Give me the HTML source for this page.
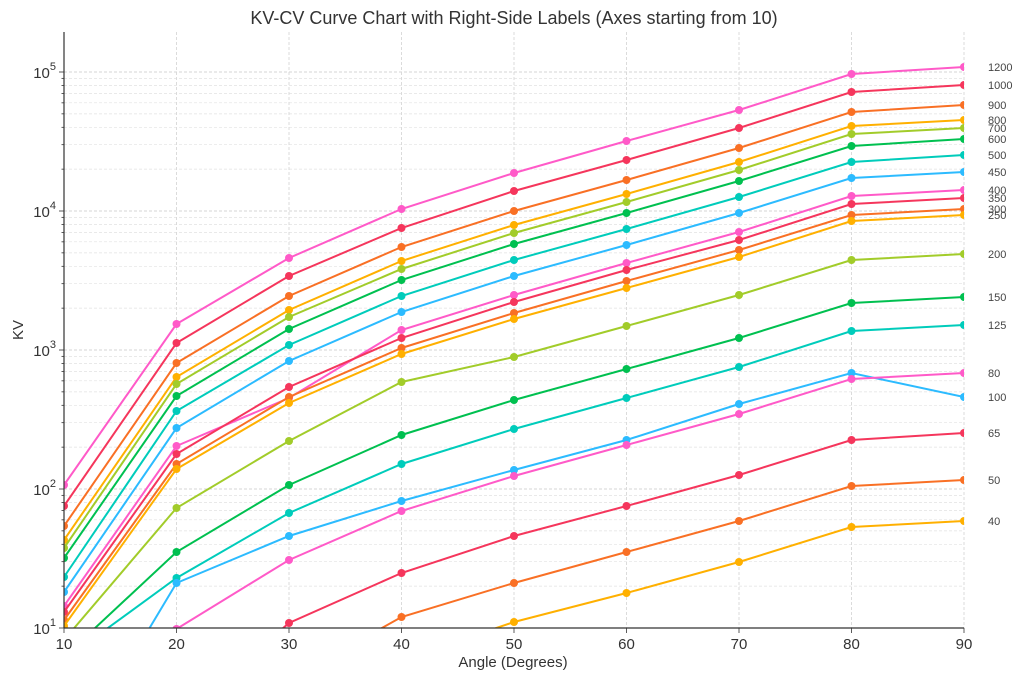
<!DOCTYPE html>
<html><head><meta charset="utf-8"><style>
html,body{margin:0;padding:0;background:#fff;width:1024px;height:680px;overflow:hidden;}
svg{display:block;font-family:"Liberation Sans","DejaVu Sans",sans-serif;}
</style></head><body>
<svg id="s" width="1024" height="680" xmlns="http://www.w3.org/2000/svg">
<rect width="1024" height="680" fill="#fff"/>
<defs><clipPath id="cp"><rect x="64" y="32" width="900" height="596"/></clipPath></defs>
<g id="grid"></g>
<g id="series" clip-path="url(#cp)"></g>
<g id="axes"></g>
<text x="514" y="24" text-anchor="middle" font-size="18" fill="#333">KV-CV Curve Chart with Right-Side Labels (Axes starting from 10)</text>
<text x="513" y="667" text-anchor="middle" font-size="15" fill="#333">Angle (Degrees)</text>
<text transform="translate(23,330) rotate(-90)" text-anchor="middle" font-size="15" fill="#333">KV</text>
</svg>
<script>
const NS="http://www.w3.org/2000/svg";
function el(p,t,a,txt){const e=document.createElementNS(NS,t);for(const k in a)e.setAttribute(k,a[k]);if(txt!==undefined)e.textContent=txt;p.appendChild(e);return e;}
const X0=64,X1=964,Y0=628,YT=32,DEC=139;
const xp=v=>X0+(v-10)*(X1-X0)/80;
const yp=v=>Y0-(Math.log10(v)-1)*DEC;
const g=document.getElementById('grid'),ax=document.getElementById('axes'),sg=document.getElementById('series');
for(let k=1;k<=5;k++){for(let m=1;m<10;m++){const v=m*Math.pow(10,k);const y=yp(v);if(y<YT||y>Y0)continue;
el(g,'line',{x1:X0,x2:X1,y1:y,y2:y,stroke:m==1?'#d4d4d4':'#e2e2e2','stroke-width':m==1?0.9:0.7,'stroke-dasharray':'3,2'});
el(ax,'line',{x1:X0-(m==1?5:2.5),x2:X0,y1:y,y2:y,stroke:'#333','stroke-width':0.8});}}
for(let v=10;v<=90;v+=10){const x=xp(v);el(g,'line',{x1:x,x2:x,y1:YT,y2:Y0,stroke:'#d8d8d8','stroke-width':0.9,'stroke-dasharray':'3,2'});
el(ax,'line',{x1:x,x2:x,y1:Y0,y2:Y0+5,stroke:'#333','stroke-width':0.8});
el(ax,'text',{x:x,y:Y0+21,'text-anchor':'middle','font-size':15,fill:'#333'},String(v));}
for(let k=1;k<=5;k++){const y=yp(Math.pow(10,k));const t=el(ax,'text',{x:X0-8,y:y+6,'text-anchor':'end','font-size':15,fill:'#333'});
el(t,'tspan',{},'10');el(t,'tspan',{dy:-8,'font-size':11},String(k));}
el(ax,'line',{x1:X0,x2:X0,y1:YT,y2:Y0,stroke:'#333','stroke-width':1.2});
el(ax,'line',{x1:X0,x2:X1,y1:Y0,y2:Y0,stroke:'#333','stroke-width':1.2});
const P='#ff5ac8',R='#f5365c',O='#f97025',A='#ffb000',YG='#a2cc2a',G='#00c050',T='#00ccbb',B='#2cbbff';
const S=[
['1200',P,[485,324,258,209,173,141,110,74,67]],
['1000',R,[506,343,276,228,191,160,128,92,85]],
['900',O,[526,363,296,247,211,180,148,112,105]],
['800',A,[540,377,310,261,225,194,162,126,120]],
['700',YG,[548,384,317,269,233,202,170,134,128]],
['600',G,[558,396,329,280,244,213,181,146,139]],
['500',T,[577,411,345,296,260,229,197,162,155]],
['450',B,[592,428,361,312,276,245,213,178,172]],
['400',P,[606,446,398,330,295,263,232,196,190]],
['350',R,[612,454,387,338,302,270,240,204,198]],
['300',O,[620,464,397,348,313,281,250,215,209]],
['250',A,[626,469,403,354,319,288,257,221,215]],
['200',YG,[640,508,441,382,357,326,295,260,254]],
['150',G,[657,552,485,435,400,369,338,303,297]],
['125',T,[660,578,513,464,429,398,367,331,325]],
['100',B,[771,583,536,501,470,440,404,373,397]],
['80',P,[760,629,560,511,476,445,414,379,373]],
['65',R,[null,720,623,573,536,506,475,440,433]],
['50',O,[null,null,680,617,583,552,521,486,480]],
['40',A,[null,null,null,660,622,593,562,527,521]]];
S.forEach(([lab,c,ys])=>{const pts=[];ys.forEach((y,i)=>{if(y!==null)pts.push([xp(10+10*i),y]);});
el(sg,'polyline',{points:pts.map(p=>p.join(',')).join(' '),fill:'none',stroke:c,'stroke-width':2});
pts.forEach(p=>el(sg,'circle',{cx:p[0],cy:p[1],r:4,fill:c}));
el(ax,'text',{x:988,y:ys[8]+4,'font-size':11,fill:'#444'},lab);});
</script>
</body></html>
